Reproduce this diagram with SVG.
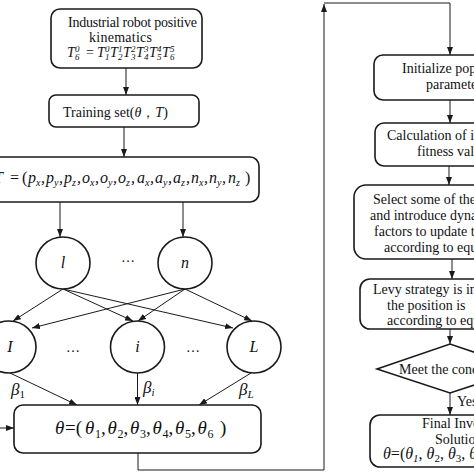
<svg xmlns="http://www.w3.org/2000/svg" width="474" height="474" viewBox="0 0 474 474">
<style>
.box{fill:#fff;stroke:#1a1a1a;stroke-width:1.6}
.nd{fill:#fff;stroke:#1a1a1a;stroke-width:1.6}
.ln{stroke:#1a1a1a;stroke-width:1;fill:none}
.t{font-family:"Liberation Serif",serif;font-size:14px;fill:#111}
.m{font-family:"Liberation Serif",serif;font-style:italic;fill:#111}
</style>
<defs>
<marker id="ah" markerUnits="userSpaceOnUse" markerWidth="8" markerHeight="6" refX="8" refY="3" orient="auto">
<path d="M0,0 L8,3 L0,6 z" fill="#1a1a1a"/>
</marker>
</defs>
<rect width="474" height="474" fill="#fff"/>

<g id="connectors">
<line class="ln" x1="126" y1="68" x2="126" y2="95" marker-end="url(#ah)"/>
<line class="ln" x1="124" y1="127" x2="124" y2="157" marker-end="url(#ah)"/>
<line class="ln" x1="60" y1="202" x2="60" y2="237" marker-end="url(#ah)"/>
<line class="ln" x1="183" y1="202" x2="183" y2="237" marker-end="url(#ah)"/>
<line class="ln" x1="63" y1="289" x2="13" y2="321" marker-end="url(#ah)"/>
<line class="ln" x1="63" y1="289" x2="133" y2="321" marker-end="url(#ah)"/>
<line class="ln" x1="63" y1="289" x2="233" y2="328" marker-end="url(#ah)"/>
<line class="ln" x1="185" y1="289" x2="32" y2="328" marker-end="url(#ah)"/>
<line class="ln" x1="185" y1="289" x2="138" y2="321" marker-end="url(#ah)"/>
<line class="ln" x1="185" y1="289" x2="252" y2="321" marker-end="url(#ah)"/>
<line class="ln" x1="10" y1="373" x2="77" y2="405" marker-end="url(#ah)"/>
<line class="ln" x1="137.5" y1="373" x2="137.5" y2="405" marker-end="url(#ah)"/>
<line class="ln" x1="251" y1="373" x2="199" y2="405" marker-end="url(#ah)"/>
<line class="ln" x1="-10" y1="428" x2="14" y2="428" marker-end="url(#ah)"/>
<polyline class="ln" points="138,453 138,470 324,470 324,4" marker-end="url(#ah)"/>
<polyline class="ln" points="324,3 450,3 450,55" marker-end="url(#ah)"/>
<line class="ln" x1="450" y1="100" x2="450" y2="123" marker-end="url(#ah)"/>
<line class="ln" x1="449" y1="166" x2="449" y2="185" marker-end="url(#ah)"/>
<line class="ln" x1="452" y1="259" x2="452" y2="279" marker-end="url(#ah)"/>
<line class="ln" x1="450" y1="329" x2="450" y2="344" marker-end="url(#ah)"/>
<line class="ln" x1="450" y1="393" x2="450" y2="415" marker-end="url(#ah)"/>
<text class="t" x="457" y="406">Yes</text>
</g>

<g id="kinematics">
<rect class="box" x="51" y="9" width="151" height="59" rx="9"/>
<text class="t" x="68" y="27" textLength="129">Industrial robot positive</text>
<text class="t" x="89" y="42" textLength="63">kinematics</text>
<text class="m" font-size="14"><tspan x="67" y="57">T</tspan><tspan x="75" y="52" font-size="9">0</tspan><tspan x="75" y="60" font-size="9">6</tspan><tspan x="86" y="57" font-style="normal">=</tspan><tspan x="97" y="57">T</tspan><tspan x="105" y="52" font-size="9">0</tspan><tspan x="105" y="60" font-size="9">1</tspan><tspan x="110" y="57">T</tspan><tspan x="118" y="52" font-size="9">1</tspan><tspan x="118" y="60" font-size="9">2</tspan><tspan x="123" y="57">T</tspan><tspan x="131" y="52" font-size="9">2</tspan><tspan x="131" y="60" font-size="9">3</tspan><tspan x="136" y="57">T</tspan><tspan x="144" y="52" font-size="9">3</tspan><tspan x="144" y="60" font-size="9">4</tspan><tspan x="149" y="57">T</tspan><tspan x="157" y="52" font-size="9">4</tspan><tspan x="157" y="60" font-size="9">5</tspan><tspan x="162" y="57">T</tspan><tspan x="170" y="52" font-size="9">5</tspan><tspan x="170" y="60" font-size="9">6</tspan></text>
</g>

<g id="training">
<rect class="box" x="49" y="95" width="150" height="32" rx="7"/>
<text class="t" x="63" y="117" font-size="15">Training set(<tspan class="m">θ</tspan>，<tspan class="m">T</tspan>)</text>
</g>

<g id="tvector">
<rect class="box" x="-12" y="157" width="271" height="45" rx="9"/>
<text class="m" font-size="16" y="183"><tspan x="-6">T</tspan><tspan x="10" font-style="normal">=</tspan><tspan x="22" font-style="normal">(</tspan><tspan x="28">p</tspan><tspan x="36" dy="3" font-size="10">x</tspan><tspan x="41" dy="-3">,</tspan><tspan x="46">p</tspan><tspan x="54" dy="3" font-size="10">y</tspan><tspan x="59" dy="-3">,</tspan><tspan x="64">p</tspan><tspan x="72" dy="3" font-size="10">z</tspan><tspan x="77" dy="-3">,</tspan><tspan x="82">o</tspan><tspan x="90" dy="3" font-size="10">x</tspan><tspan x="95" dy="-3">,</tspan><tspan x="100">o</tspan><tspan x="108" dy="3" font-size="10">y</tspan><tspan x="113" dy="-3">,</tspan><tspan x="118">o</tspan><tspan x="126" dy="3" font-size="10">z</tspan><tspan x="131" dy="-3">,</tspan><tspan x="137">a</tspan><tspan x="145" dy="3" font-size="10">x</tspan><tspan x="150" dy="-3">,</tspan><tspan x="155">a</tspan><tspan x="163" dy="3" font-size="10">y</tspan><tspan x="168" dy="-3">,</tspan><tspan x="173">a</tspan><tspan x="181" dy="3" font-size="10">z</tspan><tspan x="186" dy="-3">,</tspan><tspan x="191">n</tspan><tspan x="199" dy="3" font-size="10">x</tspan><tspan x="204" dy="-3">,</tspan><tspan x="209">n</tspan><tspan x="217" dy="3" font-size="10">y</tspan><tspan x="222" dy="-3">,</tspan><tspan x="228">n</tspan><tspan x="236" dy="3" font-size="10">z</tspan><tspan x="245" dy="-3" font-style="normal">)</tspan></text>
</g>

<g id="hidden-l">
<ellipse class="nd" cx="63" cy="263" rx="27" ry="26"/>
<text class="m" font-size="16" x="63" y="268" text-anchor="middle">l</text>
</g>
<text class="t" font-size="16" x="128" y="262" text-anchor="middle">…</text>
<g id="hidden-n">
<ellipse class="nd" cx="185" cy="263" rx="27" ry="26"/>
<text class="m" font-size="16" x="185" y="268" text-anchor="middle">n</text>
</g>

<g id="out-I">
<ellipse class="nd" cx="9" cy="347" rx="27" ry="26"/>
<text class="m" font-size="16" x="10" y="352" text-anchor="middle">I</text>
</g>
<text class="t" font-size="16" x="73" y="352" text-anchor="middle">…</text>
<g id="out-i">
<ellipse class="nd" cx="137.5" cy="347" rx="27" ry="26"/>
<text class="m" font-size="16" x="137.5" y="352" text-anchor="middle">i</text>
</g>
<text class="t" font-size="16" x="193" y="352" text-anchor="middle">…</text>
<g id="out-L">
<ellipse class="nd" cx="254" cy="347" rx="27" ry="26"/>
<text class="m" font-size="16" x="254" y="352" text-anchor="middle">L</text>
</g>

<g id="betas">
<text class="m" font-size="17" x="11" y="395">β<tspan font-size="11" font-style="normal" dy="3">1</tspan></text>
<text class="m" font-size="17" x="143" y="393">β<tspan font-size="11" dy="3">i</tspan></text>
<text class="m" font-size="17" x="239" y="395">β<tspan font-size="11" dy="3">L</tspan></text>
</g>

<g id="theta">
<rect class="box" x="14" y="405" width="247" height="48" rx="9"/>
<text class="m" font-size="19" y="434"><tspan x="55">θ</tspan><tspan x="65" font-style="normal">=(</tspan><tspan x="85">θ</tspan><tspan x="95" dy="4" font-size="12" font-style="normal">1</tspan><tspan x="101" dy="-4" font-style="normal">,</tspan><tspan x="107.5">θ</tspan><tspan x="117.5" dy="4" font-size="12" font-style="normal">2</tspan><tspan x="123.5" dy="-4" font-style="normal">,</tspan><tspan x="130">θ</tspan><tspan x="140" dy="4" font-size="12" font-style="normal">3</tspan><tspan x="146" dy="-4" font-style="normal">,</tspan><tspan x="152.5">θ</tspan><tspan x="162.5" dy="4" font-size="12" font-style="normal">4</tspan><tspan x="168.5" dy="-4" font-style="normal">,</tspan><tspan x="175">θ</tspan><tspan x="185" dy="4" font-size="12" font-style="normal">5</tspan><tspan x="191" dy="-4" font-style="normal">,</tspan><tspan x="197.5">θ</tspan><tspan x="207.5" dy="4" font-size="12" font-style="normal">6</tspan><tspan x="220" dy="-4" font-style="normal">)</tspan></text>
</g>

<g id="init">
<rect class="box" x="374" y="55" width="160" height="45" rx="9"/>
<text class="t" x="402" y="73">Initialize population</text>
<text class="t" x="426" y="89">parameters</text>
</g>

<g id="calc">
<rect class="box" x="375" y="123" width="160" height="43" rx="9"/>
<text class="t" x="387" y="140">Calculation of individual</text>
<text class="t" x="417" y="156">fitness values</text>
</g>

<g id="select">
<rect class="box" x="354" y="185" width="190" height="74" rx="12"/>
<text class="t" x="373" y="204">Select some of the</text>
<text class="t" x="370" y="220">and introduce dynamic</text>
<text class="t" x="374" y="236">factors to update the</text>
<text class="t" x="384" y="252">according to equation</text>
</g>

<g id="levy">
<rect class="box" x="360" y="279" width="180" height="50" rx="10"/>
<text class="t" x="373" y="294">Levy strategy is introduced</text>
<text class="t" x="387" y="310">the position is</text>
<text class="t" x="387" y="325">according to equation</text>
</g>

<g id="decision">
<polygon class="box" points="377,369 450,344 523,369 450,393"/>
<text class="t" x="399" y="374">Meet the conditions</text>
</g>

<g id="final">
<rect class="box" x="370" y="415" width="170" height="52" rx="10"/>
<text class="t" x="422" y="428">Final Inverse</text>
<text class="t" x="435" y="444">Solution</text>
<text class="m" font-size="16" y="459"><tspan x="383">θ</tspan><tspan font-style="normal">=(</tspan>θ<tspan font-size="11" dy="3">1</tspan><tspan dy="-3" font-style="normal">, </tspan>θ<tspan font-size="11" dy="3" font-style="normal">2</tspan><tspan dy="-3" font-style="normal">, </tspan>θ<tspan font-size="11" dy="3" font-style="normal">3</tspan><tspan dy="-3" font-style="normal">, </tspan>θ</text>
</g>
</svg>
